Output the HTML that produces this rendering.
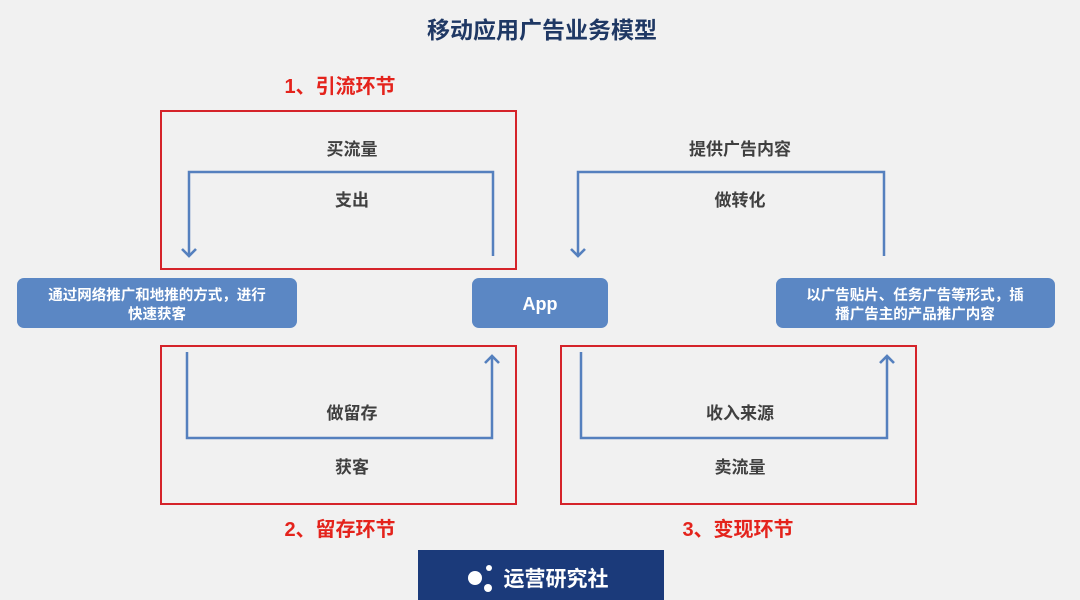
<!DOCTYPE html>
<html><head><meta charset="utf-8"><style>
html,body{margin:0;padding:0;background:#f1f1f1;width:1080px;height:600px;overflow:hidden}
svg text{font-family:"Liberation Sans","Noto Sans CJK SC",sans-serif;font-weight:bold}
</style></head><body>
<svg width="1080" height="600" viewBox="0 0 1080 600" xmlns="http://www.w3.org/2000/svg">
<rect width="1080" height="600" fill="#f1f1f1"/>
<defs><marker id="a" markerWidth="14" markerHeight="16" refX="8" refY="8" orient="auto" markerUnits="userSpaceOnUse"><path d="M1,1 L8,8 L1,15" fill="none" stroke="#5580be" stroke-width="2.6"/></marker></defs>
<text x="542" y="38" font-size="23" fill="#1f3864" text-anchor="middle">移动应用广告业务模型</text>
<g fill="#e4231c" font-size="20" text-anchor="middle">
<text x="340" y="93">1、引流环节</text>
<text x="340" y="536">2、留存环节</text>
<text x="738" y="536">3、变现环节</text>
</g>
<g fill="none" stroke="#d5232a" stroke-width="2">
<rect x="161" y="111" width="355" height="158"/>
<rect x="161" y="346" width="355" height="158"/>
<rect x="561" y="346" width="355" height="158"/>
</g>
<g fill="none" stroke="#5580be" stroke-width="2.5">
<path d="M493,256 V172 H189 V256" marker-end="url(#a)"/>
<path d="M884,256 V172 H578 V256" marker-end="url(#a)"/>
<path d="M187,352 V438 H492 V356" marker-end="url(#a)"/>
<path d="M581,352 V438 H887 V356" marker-end="url(#a)"/>
</g>
<g fill="#5b87c4">
<rect x="17" y="278" width="280" height="50" rx="7"/>
<rect x="472" y="278" width="136" height="50" rx="7"/>
<rect x="776" y="278" width="279" height="50" rx="7"/>
</g>
<g fill="#fff" font-size="14.5" text-anchor="middle">
<text x="157" y="300">通过网络推广和地推的方式，进行</text>
<text x="157" y="319">快速获客</text>
<text x="540" y="310" font-size="18">App</text>
<text x="915" y="300">以广告贴片、任务广告等形式，插</text>
<text x="915" y="319">播广告主的产品推广内容</text>
</g>
<g fill="#404040" font-size="17" text-anchor="middle">
<text x="352" y="155">买流量</text>
<text x="352" y="206">支出</text>
<text x="740" y="155">提供广告内容</text>
<text x="740" y="206">做转化</text>
<text x="352" y="419">做留存</text>
<text x="352" y="473">获客</text>
<text x="740" y="419">收入来源</text>
<text x="740" y="473">卖流量</text>
</g>
<rect x="418" y="550" width="246" height="50" fill="#1b3a7a"/>
<circle cx="475" cy="578" r="7" fill="#fff"/>
<circle cx="489" cy="568" r="3" fill="#fff"/>
<circle cx="488" cy="588" r="4" fill="#fff"/>
<text x="556" y="586" fill="#fff" font-size="21" text-anchor="middle">运营研究社</text>
</svg>
</body></html>
